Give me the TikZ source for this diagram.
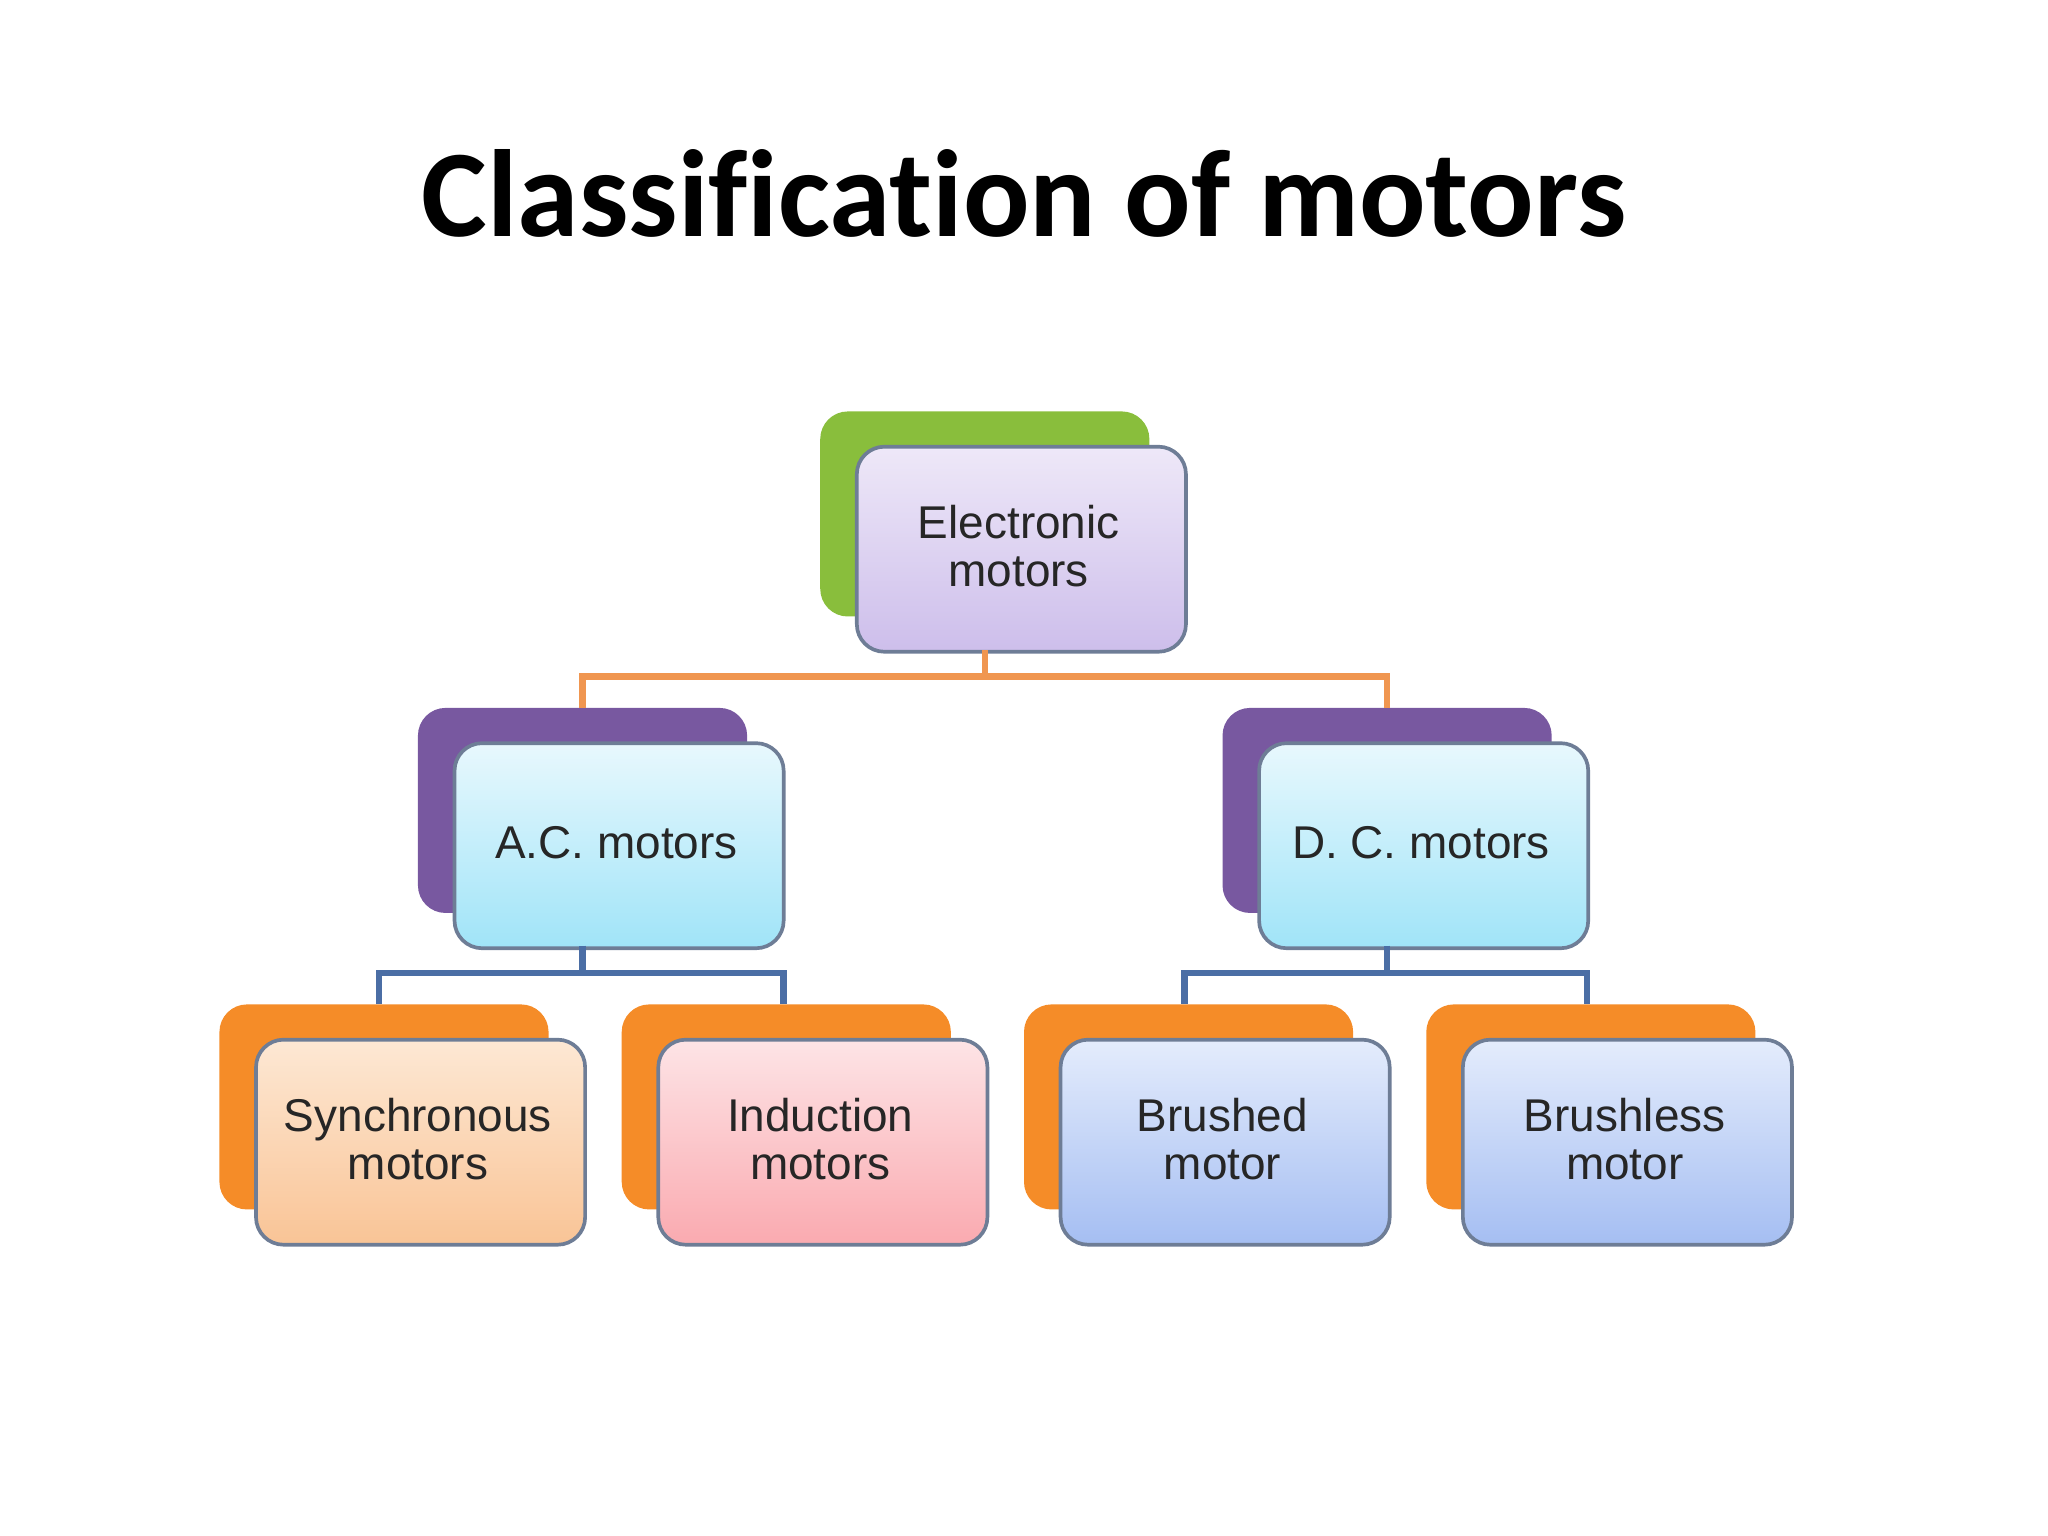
\documentclass[tikz,border=0pt]{standalone}
\usepackage{fontspec}
\setmainfont{Liberation Sans}
\newfontfamily\titlefont[Ligatures={NoCommon,NoRare}]{Carlito}
\definecolor{gbk}{RGB}{137,190,60}
\definecolor{pbk}{RGB}{120,88,160}
\definecolor{obk}{RGB}{245,140,40}
\definecolor{rootT}{RGB}{238,232,248}
\definecolor{rootB}{RGB}{205,190,235}
\definecolor{cyT}{RGB}{232,248,253}
\definecolor{cyB}{RGB}{160,228,248}
\definecolor{peT}{RGB}{253,232,212}
\definecolor{peB}{RGB}{249,196,150}
\definecolor{piT}{RGB}{253,228,230}
\definecolor{piB}{RGB}{250,170,176}
\definecolor{blT}{RGB}{228,236,252}
\definecolor{blB}{RGB}{165,190,242}
\definecolor{edge}{RGB}{110,125,150}
\definecolor{lnA}{RGB}{240,150,80}
\definecolor{lnB}{RGB}{75,110,165}
\begin{document}
\begin{tikzpicture}[x=0.01cm,y=-0.01cm,
  back/.style={rounded corners=6pt,line width=0.6pt},
  conA/.style={draw=lnA,line width=1.4pt},
  conB/.style={draw=lnB,line width=1.4pt}]
\useasboundingbox (0,0) rectangle (1568,1176);
\node[font=\titlefont\bfseries\fontsize{27pt}{32pt}\selectfont] (title) at (784,148) {Classification of motors};
\newcommand\boxpair[7]{%
  \fill[back,#4] (#2,#3) rectangle ++(252,157);
  \shade[rounded corners=6pt,top color=#5,bottom color=#6,draw=edge,line width=0.8pt] (#2+28,#3+27) rectangle ++(252,157);
  \node[align=center,font=\fontsize{10pt}{10.6pt}\selectfont,text=black!85] (#1) at (#2+152,#3+103) {#7};}
\boxpair{root}{628}{315}{gbk}{rootT}{rootB}{Electronic\\motors}
\boxpair{ac}{320}{542}{pbk}{cyT}{cyB}{A.C.\ motors}
\boxpair{dc}{936}{542}{pbk}{cyT}{cyB}{D.\ C.\ motors}
\boxpair{syn}{168}{769}{obk}{peT}{peB}{Synchronous\\motors}
\boxpair{ind}{476}{769}{obk}{piT}{piB}{Induction\\motors}
\boxpair{bru}{784}{769}{obk}{blT}{blB}{Brushed\\motor}
\boxpair{brl}{1092}{769}{obk}{blT}{blB}{Brushless\\motor}
\draw[conA] (754,498) -- (754,518) -- (446,518) -- (446,542);
\draw[conA] (754,518) -- (1062,518) -- (1062,542);
\draw[conB] (446,724) -- (446,745) -- (290,745) -- (290,769);
\draw[conB] (446,745) -- (600,745) -- (600,769);
\draw[conB] (1062,724) -- (1062,745) -- (907,745) -- (907,769);
\draw[conB] (1062,745) -- (1215,745) -- (1215,769);
\end{tikzpicture}
\end{document}
